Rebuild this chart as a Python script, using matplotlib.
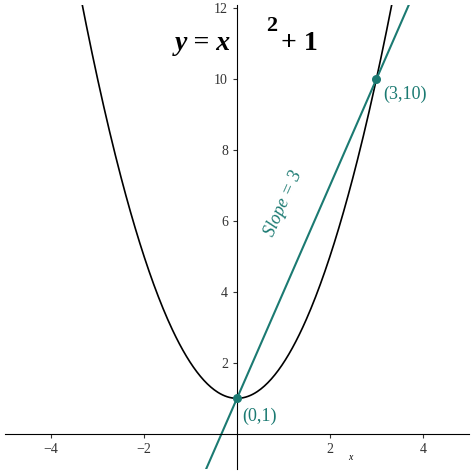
import numpy as np
import matplotlib.pyplot as plt

teal = '#1b7a72'
x_ticks = [-4, -2, 2, 4]
y_ticks = [2, 4, 6, 8, 10, 12]
pts_x = [0, 3]
pts_y = [1, 10]
pt_labels = ['(0,1)', '(3,10)']
slope = 3

fig = plt.figure(figsize=(4.74, 4.74), dpi=100)
ax = fig.add_axes([0.01, 0.01, 0.98, 0.98])
ax.set_xlim(-5, 5)
ax.set_ylim(-1, 12.1)

xs = np.linspace(-5, 5, 400)
ax.plot(xs, xs**2 + 1, color='black', lw=1.2)
xl = np.linspace(-1, 5, 10)
ax.plot(xl, pts_y[0] + slope * xl, color=teal, lw=1.5)
ax.scatter(pts_x, pts_y, color=teal, s=30, zorder=5)

serif = ['Liberation Serif', 'DejaVu Serif']
ax.text(0.12, 0.35, pt_labels[0], color=teal, fontsize=13, family=serif)
ax.text(3.15, 9.45, pt_labels[1], color=teal, fontsize=13, family=serif)
ax.text(1.0, 6.5, 'Slope = 3', color=teal, fontsize=13, family=serif,
        style='italic', rotation=66, ha='center', va='center')

ax.text(-1.35, 11.0, 'y = x', fontsize=20, family=serif, weight='bold',
        style='italic', va='center')
ax.text(0.62, 11.5, '2', fontsize=16, family=serif, weight='bold', va='center')
ax.text(0.95, 11.0, '+ 1', fontsize=20, family=serif, weight='bold', va='center')
ax.text(2.4, -0.75, 'x', fontsize=7, family=serif, style='italic')

for s in ['top', 'right']:
    ax.spines[s].set_visible(False)
ax.spines['left'].set_position(('data', 0))
ax.spines['bottom'].set_position(('data', 0))
ax.set_xticks(x_ticks)
ax.set_yticks(y_ticks)
ax.set_xticklabels([f'\u2212{-t}' if t < 0 else str(t) for t in x_ticks], family=serif)
ax.set_yticklabels([str(t) for t in y_ticks], family=serif)
ax.tick_params(labelsize=10, length=3, colors='#333333')
fig.savefig('out.png')
